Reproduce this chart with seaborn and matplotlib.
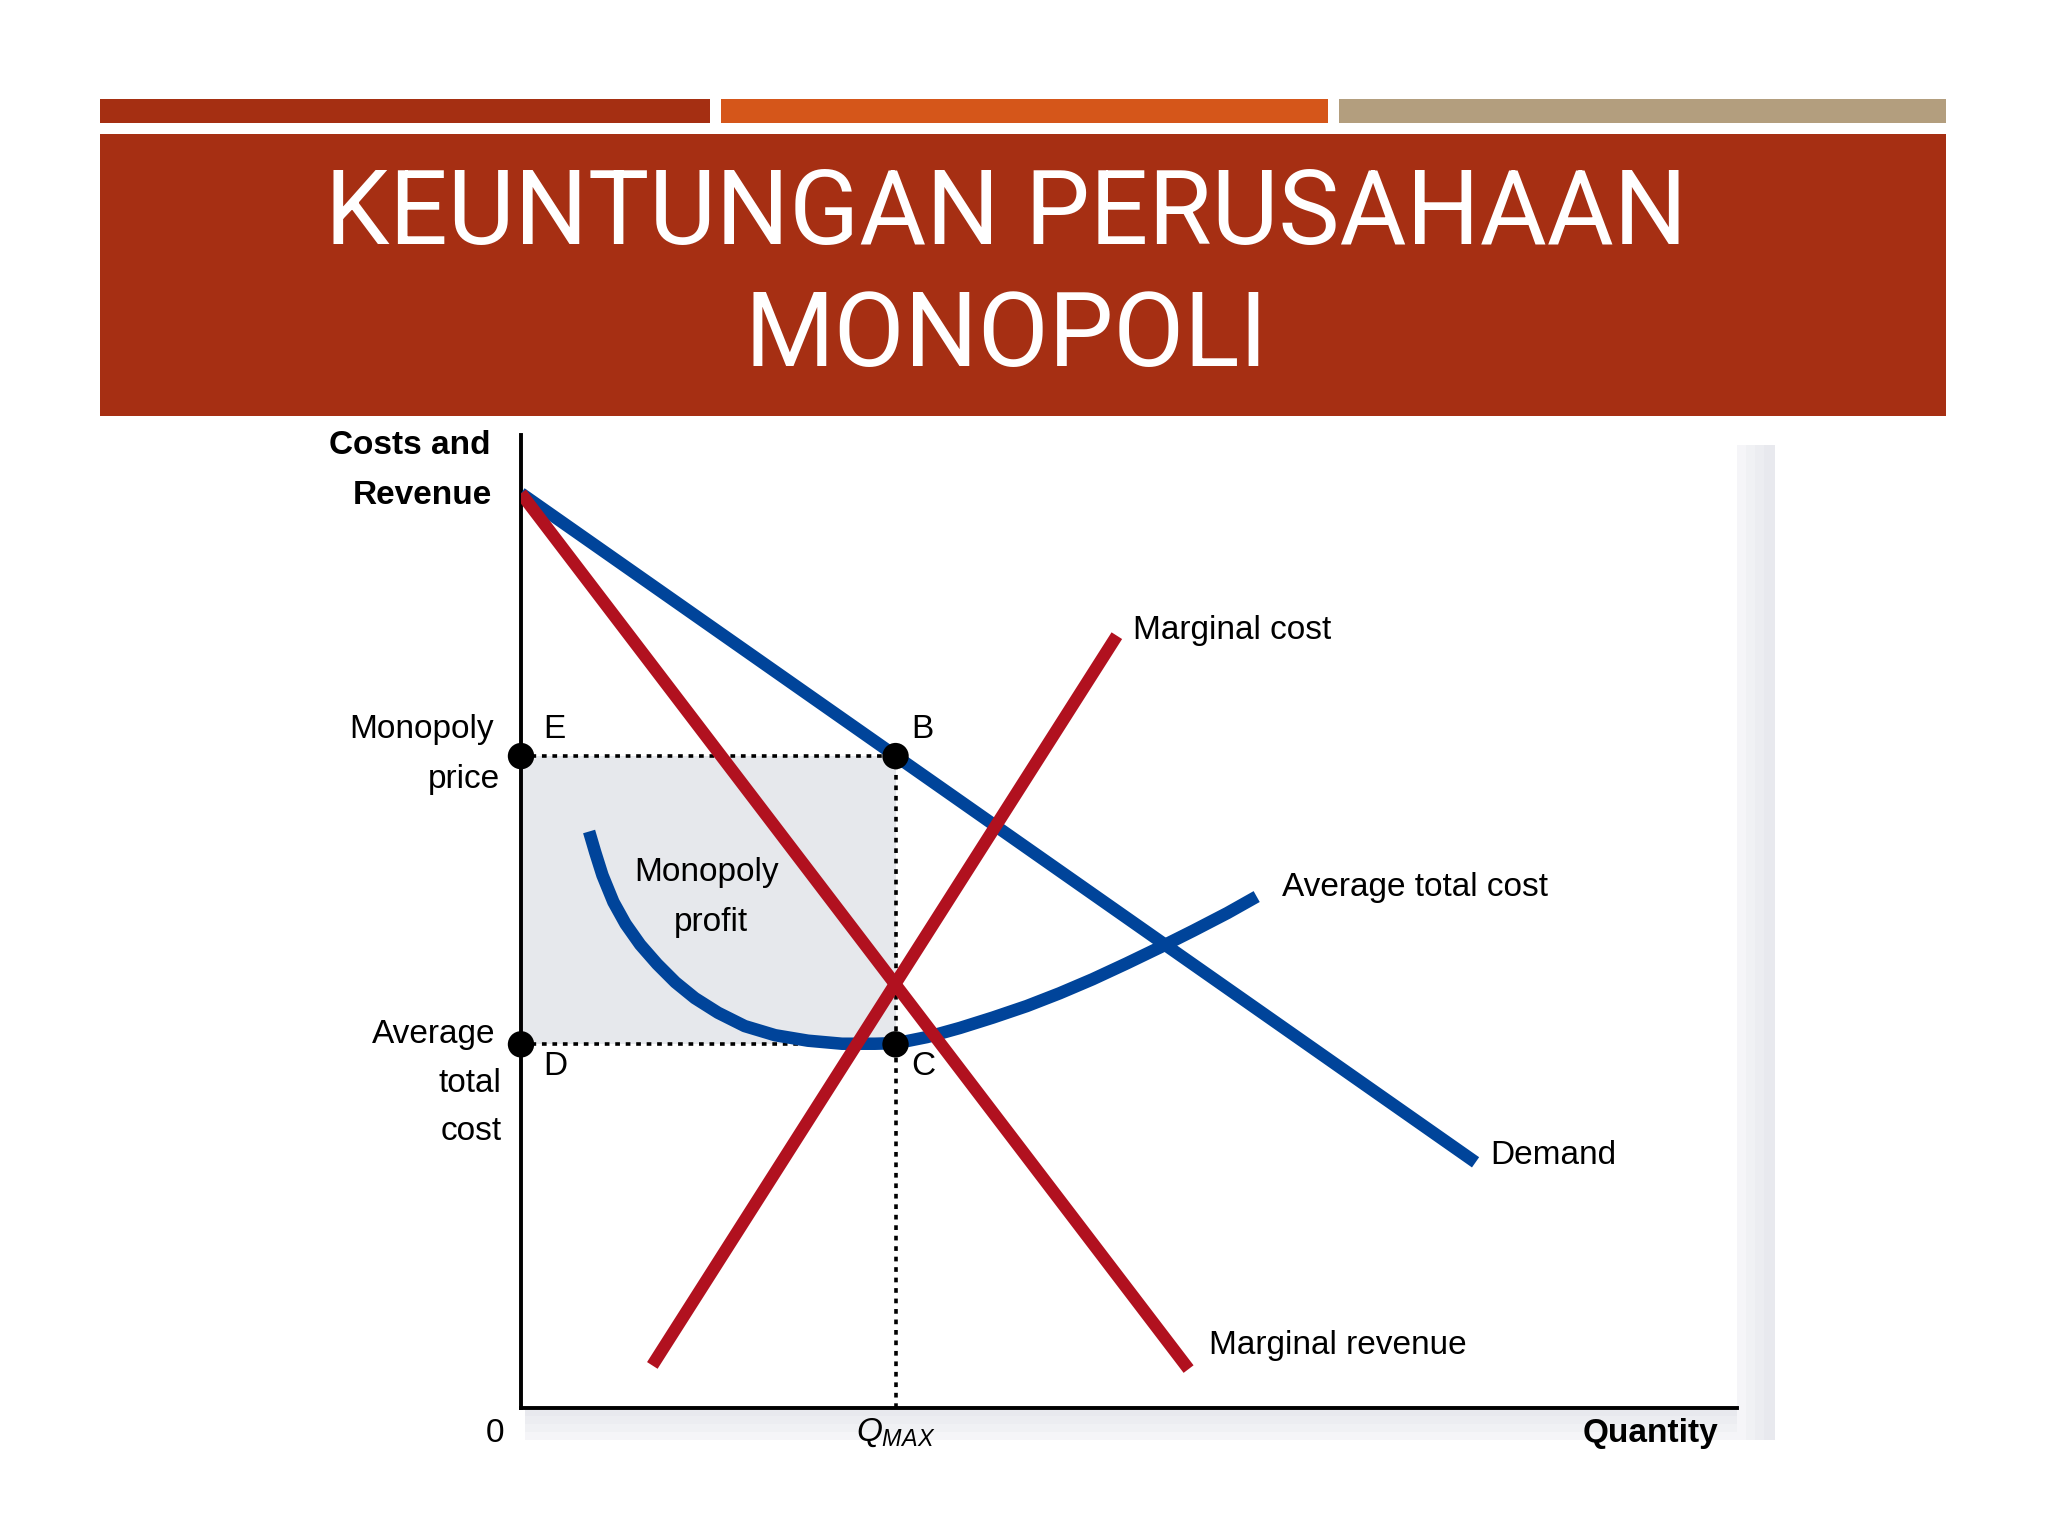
import matplotlib
matplotlib.use("Agg")
import matplotlib.pyplot as plt
from matplotlib.patches import Rectangle
import seaborn as sns
import pandas as pd

# data (quantity, price units)
demand_q = [0, 78.5]
demand_p = [75.2, 20.2]
mr_q = [0, 54.9]
mr_p = [75.2, 3.2]
mc_q = [10.8, 49.0]
mc_p = [3.5, 63.5]
atc_q = [5.6, 6.1, 6.7, 7.6, 8.6, 9.8, 11.2, 12.7, 14.3, 16.2, 18.4, 20.9, 23.6,
         26.4, 29.1, 30.9, 33.4, 36.1, 38.8, 41.6, 44.3, 47.0, 49.8, 52.6, 55.3,
         58.1, 60.5]
atc_p = [47.4, 45.7, 43.8, 41.6, 39.8, 38.1, 36.5, 35.0, 33.7, 32.5, 31.4, 30.65, 30.2,
         29.95, 29.95, 30.0, 30.5, 31.25, 32.1, 33.05, 34.1, 35.25, 36.55, 37.9, 39.25,
         40.7, 42.05]
q_max = 30.8
p_monopoly = 53.6
atc_at_qmax = 29.9

title_lines = ["KEUNTUNGAN PERUSAHAAN", "MONOPOLI"]
bar_colors = ["#A52F12", "#D5561A", "#B39E7E"]

BLUE = "#00449A"
RED = "#B1111F"
BANNER = "#A62F13"

sns.set_style("white")
plt.rcParams['font.family'] = ['Liberation Sans', 'DejaVu Sans']
plt.rcParams['mathtext.fontset'] = 'custom'
plt.rcParams['mathtext.it'] = 'Liberation Sans:italic'
plt.rcParams['mathtext.rm'] = 'Liberation Sans'

W, H = 2048, 1536
fig = plt.figure(figsize=(20.48, 15.36), dpi=100)
fig.patch.set_facecolor("white")


def frect(x0, y0, x1, y1, color, z=0):
    # rectangle given in image pixels (top-left origin)
    fig.patches.append(Rectangle((x0 / W, 1 - y1 / H), (x1 - x0) / W, (y1 - y0) / H,
                                 transform=fig.transFigure, facecolor=color,
                                 edgecolor="none", zorder=z))


# header bars and banner
frect(100, 99, 710, 123, bar_colors[0])
frect(721, 99, 1328, 123, bar_colors[1])
frect(1339, 99, 1946, 123, bar_colors[2])
frect(100, 134, 1946, 416, BANNER)
fig.text(1006 / W, 1 - 244 / H, title_lines[0], color="white", fontsize=74,
         family="Roboto", weight="normal", ha="center", va="baseline")
fig.text(1006 / W, 1 - 366 / H, title_lines[1], color="white", fontsize=74,
         family="Roboto", weight="normal", ha="center", va="baseline")

# soft shadow behind the chart
shades = ["#F5F5F8", "#F0F1F4", "#ECEDF1", "#E8E9EE"]
for i, c in enumerate(shades):
    frect(1737 + 9 * i, 445, 1775, 1440, c)
for i, c in enumerate(shades[::-1]):
    frect(525, 1408 + 8 * i, 1737, 1408 + 8 * (i + 1), c)

ax = fig.add_axes([521 / W, 1 - 1408 / H, (1737 - 521) / W, (1408 - 435) / H])
ax.set_zorder(2)
ax.set_xlim(0, 100)
ax.set_ylim(0, 80)
ax.set_facecolor("white")

# profit rectangle
ax.fill_between([0, q_max], atc_at_qmax, p_monopoly, color="#E6E8EC", zorder=1, lw=0)

dot = dict(color="black", lw=2.6, linestyle=(0, (1.3, 1.6)), zorder=2)
ax.plot([0, q_max], [p_monopoly, p_monopoly], **dot)
ax.plot([0, q_max], [atc_at_qmax, atc_at_qmax], **dot)
ax.plot([q_max, q_max], [0, p_monopoly], **dot)

LW = 9
curves = pd.DataFrame({"q": atc_q, "p": atc_p})
sns.lineplot(data=curves, x="q", y="p", ax=ax, color=BLUE, lw=LW, zorder=3,
             solid_capstyle="butt", solid_joinstyle="round", sort=False)
sns.lineplot(x=demand_q, y=demand_p, ax=ax, color=BLUE, lw=LW, zorder=3,
             solid_capstyle="butt")
sns.lineplot(x=mr_q, y=mr_p, ax=ax, color=RED, lw=LW, zorder=3,
             solid_capstyle="butt")
sns.lineplot(x=mc_q, y=mc_p, ax=ax, color=RED, lw=LW, zorder=4,
             solid_capstyle="butt")

sns.scatterplot(x=[0, q_max, 0, q_max], y=[p_monopoly, p_monopoly, atc_at_qmax, atc_at_qmax],
                ax=ax, s=19 ** 2, color="black", edgecolor="none", zorder=6, clip_on=False)

for s in ["top", "right"]:
    ax.spines[s].set_visible(False)
for s in ["left", "bottom"]:
    ax.spines[s].set_linewidth(2.8)
    ax.spines[s].set_color("black")
ax.set_xticks([])
ax.set_yticks([])
ax.set_xlabel("")
ax.set_ylabel("")

fs = 24
t = dict(fontsize=fs, color="black", va="baseline", clip_on=False)
ax.text(-2.5, 78.4, "Costs and", ha="right", weight="bold", **t)
ax.text(-2.4, 74.3, "Revenue", ha="right", weight="bold", **t)
ax.text(-2.2, 55.1, "Monopoly", ha="right", **t)
ax.text(-1.7, 51.0, "price", ha="right", **t)
ax.text(-2.1, 30.0, "Average", ha="right", **t)
ax.text(-1.6, 26.0, "total", ha="right", **t)
ax.text(-1.6, 22.0, "cost", ha="right", **t)
ax.text(-2.1, -2.8, "0", ha="center", **t)
ax.text(q_max, -2.7, r"$\mathit{Q}_{\mathit{MAX}}$", ha="center", **t)
ax.text(98.5, -2.8, "Quantity", ha="right", weight="bold", **t)
ax.text(50.3, 63.2, "Marginal cost", ha="left", **t)
ax.text(62.6, 42.1, "Average total cost", ha="left", **t)
ax.text(79.7, 20.1, "Demand", ha="left", **t)
ax.text(56.6, 4.4, "Marginal revenue", ha="left", **t)
ax.text(15.3, 43.3, "Monopoly", ha="center", **t)
ax.text(15.6, 39.2, "profit", ha="center", **t)
ax.text(1.8, 55.1, "E", ha="left", **t)
ax.text(32.1, 55.1, "B", ha="left", **t)
ax.text(1.8, 27.4, "D", ha="left", **t)
ax.text(32.1, 27.4, "C", ha="left", **t)

fig.savefig("out.png", dpi=100, facecolor="white")
